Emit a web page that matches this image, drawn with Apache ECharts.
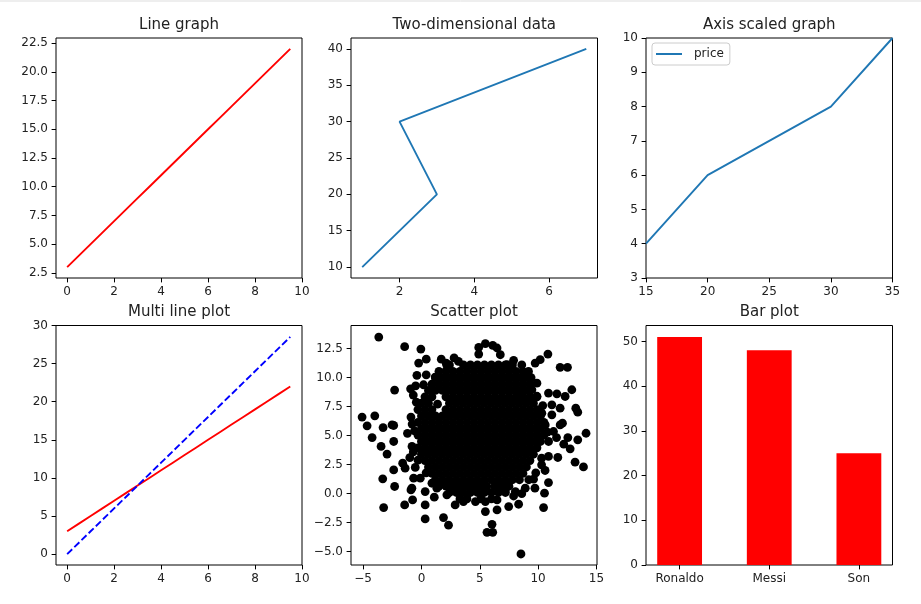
<!DOCTYPE html>
<html><head><meta charset="utf-8">
<script src="https://cdn.jsdelivr.net/npm/echarts@6/dist/echarts.min.js"></script>
<style>html,body{margin:0;padding:0;background:#fff}#c{width:921px;height:604px}</style>
</head><body><div id="c"></div>
<script>
const FONT = 'DejaVu Sans';
const TXT = '#222';

// Panel 1 & 4: line data
const lineX = [0,0.5,1,1.5,2,2.5,3,3.5,4,4.5,5,5.5,6,6.5,7,7.5,8,8.5,9,9.5];
const lineY = [3,4,5,6,7,8,9,10,11,12,13,14,15,16,17,18,19,20,21,22];
const dashedY = [0,1.5,3,4.5,6,7.5,9,10.5,12,13.5,15,16.5,18,19.5,21,22.5,24,25.5,27,28.5];
// Panel 2
const twoDX = [1,3,2,7];
const twoDY = [10,20,30,40];
// Panel 3
const priceX = [15,20,30,35];
const priceY = [4,6,8,10];
// Panel 6
const players = ['Ronaldo','Messi','Son'];
const goals = [51,48,25];

// Tick labels
const ticks1X = [0,2,4,6,8,10];
const ticks1Y = [2.5,5,7.5,10,12.5,15,17.5,20,22.5];
const ticks2X = [2,4,6];
const ticks2Y = [10,15,20,25,30,35,40];
const ticks3X = [15,20,25,30,35];
const ticks3Y = [3,4,5,6,7,8,9,10];
const ticks4X = [0,2,4,6,8,10];
const ticks4Y = [0,5,10,15,20,25,30];
const ticks5X = [-5,0,5,10,15];
const ticks5Y = [-5,-2.5,0,2.5,5,7.5,10,12.5];
const ticks6Y = [0,10,20,30,40,50];

// Panel 5 scatter: dense core read row by row (y, xs) + scattered fringe points [x,y]
const scatterCore = [
  [11.1,[2.4,3.6,4.2,4.8,5.4,6.0,6.6,7.2,7.8]],
  [10.55,[1.5,2.1,2.7,3.3,3.9,4.5,5.1,5.7,6.3,6.9,7.5,8.1,8.7]],
  [10.0,[1.2,1.8,2.4,3.0,3.6,4.2,4.8,5.4,6.0,6.6,7.2,7.8,8.4,9.0]],
  [9.45,[0.9,1.5,2.1,2.7,3.3,3.9,4.5,5.1,5.7,6.3,6.9,7.5,8.1,8.7,9.3]],
  [8.9,[0.6,1.2,1.8,2.4,3.0,3.6,4.2,4.8,5.4,6.0,6.6,7.2,7.8,8.4,9.0]],
  [8.35,[0.3,0.9,2.1,2.7,3.3,3.9,4.5,5.1,5.7,6.3,6.9,7.5,8.1,8.7,9.3,9.9]],
  [7.8,[0.0,0.6,2.4,3.0,3.6,4.2,4.8,5.4,6.0,6.6,7.2,7.8,8.4,9.0,9.6]],
  [7.25,[-0.3,0.3,0.9,2.1,2.7,3.3,3.9,4.5,5.1,5.7,6.3,6.9,7.5,8.1,8.7,9.3,9.9]],
  [6.7,[0.0,0.6,1.2,1.8,2.4,3.0,3.6,4.2,4.8,5.4,6.0,6.6,7.2,7.8,8.4,9.0,9.6,10.2]],
  [6.15,[-0.3,0.3,0.9,1.5,2.1,2.7,3.3,3.9,4.5,5.1,5.7,6.3,6.9,7.5,8.1,8.7,9.3,9.9,10.5]],
  [5.6,[0.0,0.6,1.2,1.8,2.4,3.0,3.6,4.2,4.8,5.4,6.0,6.6,7.2,7.8,8.4,9.0,9.6,10.2]],
  [5.05,[-0.3,0.3,0.9,1.5,2.1,2.7,3.3,3.9,4.5,5.1,5.7,6.3,6.9,7.5,8.1,8.7,9.3,9.9,10.5]],
  [4.5,[0.0,0.6,1.2,1.8,2.4,3.0,3.6,4.2,4.8,5.4,6.0,6.6,7.2,7.8,8.4,9.0,9.6,10.2]],
  [3.95,[-0.3,0.3,0.9,1.5,2.1,2.7,3.3,3.9,4.5,5.1,5.7,6.3,6.9,7.5,8.1,8.7,9.3,9.9]],
  [3.4,[0.0,0.6,1.2,1.8,2.4,3.0,3.6,4.2,4.8,5.4,6.0,6.6,7.2,7.8,8.4,9.0,9.6]],
  [2.85,[0.3,0.9,1.5,2.1,2.7,3.3,3.9,4.5,5.1,5.7,6.3,6.9,7.5,8.1,8.7,9.3]],
  [2.3,[0.6,1.2,1.8,2.4,3.0,3.6,4.2,4.8,5.4,6.0,6.6,7.2,7.8,8.4,9.0]],
  [1.75,[0.9,1.5,2.1,2.7,3.3,3.9,4.5,5.1,5.7,6.3,6.9,7.5,8.1,8.7]],
  [1.2,[1.2,1.8,2.4,3.0,3.6,4.2,4.8,5.4,6.0,6.6,7.2,7.8,8.4]],
  [0.65,[1.5,2.1,2.7,3.3,3.9,4.5,5.1,5.6,6.3,6.9,7.5]],
  [0.1,[2.4,3.0,3.6,4.2,4.8,5.4,6.0,6.6,7.2]],
  [-0.45,[3.3,3.9,5.1,6.0]]
];
const scatterFringe = [
  [-3.66,13.5],[-1.44,12.67],[-0.05,12.47],[0.41,11.6],[-0.24,11.26],[-0.39,10.2],[0.41,10.25],
  [1.18,10.05],[2.18,11.06],[3.17,11.4],[2.12,11.26],[-2.3,8.93],[-0.93,9.04],[0.18,9.39],
  [-0.44,7.89],[1.38,7.72],[-5.09,6.6],[-4.0,6.71],[-4.66,5.85],[-3.29,5.7],[-2.52,5.93],
  [-2.38,5.88],[-4.23,4.84],[-2.38,4.5],[-0.59,5.42],[-0.81,4.07],[-3.46,4.07],[-2.95,3.41],
  [-2.38,2.05],[-0.53,2.26],[-1.61,2.63],[-3.32,1.28],[-2.3,0.62],[-0.82,0.47],[-0.67,1.34],
  [-0.1,1.34],[-3.24,-1.2],[-1.44,-0.97],[-0.76,-0.54],[0.32,-2.18],[0.32,-0.97],[1.89,-2.06],
  [2.32,-2.72],[2.89,-0.97],[3.6,-0.68],[0.32,0.18],[1.32,0.47],[2.18,-0.1],[-0.9,0.32],
  [4.63,-0.68],[5.48,-1.54],[6.48,-1.4],[6.05,-2.64],[5.62,-3.33],[6.11,-3.33],[7.48,-1.11],
  [8.33,-0.91],[8.53,-5.2],[10.47,-1.2],[10.55,0.04],[10.89,0.96],[9.61,1.25],[8.9,0.47],
  [8.05,0.18],[7.19,0.33],[6.48,-0.54],[5.48,-0.68],[9.73,0.47],[11.69,3.12],[13.17,2.72],
  [13.89,2.31],[12.75,3.87],[10.89,3.21],[10.3,2.49],[10.3,3.06],[12.2,4.27],[11.58,4.84],
  [4.91,12.61],[5.48,12.93],[6.11,12.79],[6.48,12.56],[6.76,11.98],[4.91,12.04],[7.33,11.12],
  [9.18,10.54],[9.75,11.26],[10.18,11.55],[10.84,12.04],[11.89,10.89],[12.52,10.89],[9.9,9.53],
  [9.47,8.96],[8.62,8.53],[10.89,8.67],[11.61,8.61],[12.89,8.96],[12.32,8.38],[11.18,7.66],
  [11.89,7.37],[13.23,7.37],[13.4,7.03],[10.32,6.94],[11.18,6.8],[11.89,5.93],[12.09,6.08],
  [11.32,5.36],[13.4,4.64],[14.11,5.21],[12.55,4.84],[10.61,5.93],[-1.0,3.1],[-1.4,2.2],
  [-0.9,6.6],[-0.7,8.5],[-1.2,5.2],[1.7,11.6],[2.8,11.7],[7.9,11.5],[8.6,11.1],[9.4,10.0],
  [9.9,8.4],[10.4,7.6],[10.9,4.5],[10.8,5.3],[10.6,2.0],[9.8,1.8],[9.2,1.2],[0.4,1.8],[-0.3,2.9],
  [-0.7,3.6],[-0.8,6.0],[-0.5,9.3],[0.9,0.9],[1.1,-0.3],[7.9,-0.2],[8.6,0.0]
];

const pts5 = [];
scatterCore.forEach(r => r[1].forEach(x => pts5.push([x, r[0]])));
scatterFringe.forEach(p => pts5.push(p));

const zip = (a, b) => a.map((v, i) => [v, b[i]]);
const minus = s => String(s).replace('-', '\u2212');

const G = [
  {left:56, top:38, width:246, height:240},
  {left:351, top:38, width:246.5, height:240},
  {left:646, top:38, width:246.5, height:240},
  {left:56, top:325.5, width:246, height:239.5},
  {left:351, top:325.5, width:246, height:239.5},
  {left:646, top:325.5, width:246.5, height:239.5}
];
const titles = ['Line graph','Two-dimensional data','Axis scaled graph','Multi line plot','Scatter plot','Bar plot'];

function axis(type, gi, min, max, ticks, fmt) {
  return {
    type:'value', gridIndex:gi, min:min, max:max, scale:true,
    axisLine:{show:false, onZero:false},
    axisTick:{show:true, length:4.4, customValues:ticks, lineStyle:{color:'#000', width:1}},
    axisLabel:{customValues:ticks, formatter:fmt, fontFamily:FONT, fontSize:12, color:TXT, margin:8},
    splitLine:{show:false}
  };
}
const f1 = v => v.toFixed(1);
const f0 = v => minus(String(v));

const barW = G[5].width * 0.5 / 2.75;
const LW = 1.9;

const option = {
  animation:false,
  backgroundColor:'#fff',
  grid: G.map(g => Object.assign({show:true, borderColor:'#000', borderWidth:1, backgroundColor:'transparent', containLabel:false}, g)),
  xAxis: [
    axis('x',0,-0.475,10,ticks1X,f0),
    axis('x',1,0.7,7.3,ticks2X,f0),
    axis('x',2,15,35,ticks3X,f0),
    axis('x',3,-0.475,10,ticks4X,f0),
    axis('x',4,-6.04,15.05,ticks5X,f0),
    axis('x',5,-0.375,2.375,[0,1,2], v => players[Math.round(v)])
  ],
  yAxis: [
    axis('y',0,2.05,22.95,ticks1Y,f1),
    axis('y',1,8.5,41.5,ticks2Y,f0),
    axis('y',2,3,10,ticks3Y,f0),
    axis('y',3,-1.425,30,ticks4Y,f0),
    axis('y',4,-6.15,14.5,ticks5Y,v => minus(v.toFixed(1))),
    axis('y',5,0,53.55,ticks6Y,f0)
  ],
  legend: {
    data:['price'], left:652, top:43, orient:'vertical',
    backgroundColor:'rgba(255,255,255,0.8)', borderColor:'#cccccc', borderWidth:1, borderRadius:3,
    padding:[5,6,5,4], itemWidth:26, itemHeight:2, icon:'rect',
    textStyle:{fontFamily:FONT, fontSize:12, color:TXT, padding:[0,0,0,7]}
  },
  series: [
    {type:'line', xAxisIndex:0, yAxisIndex:0, data:zip(lineX,lineY), symbol:'none', color:'#ff0000', lineStyle:{width:LW, color:'#ff0000'}},
    {type:'line', xAxisIndex:1, yAxisIndex:1, data:zip(twoDX,twoDY), symbol:'none', color:'#1f77b4', lineStyle:{width:LW, color:'#1f77b4'}},
    {type:'line', name:'price', xAxisIndex:2, yAxisIndex:2, data:zip(priceX,priceY), symbol:'none', color:'#1f77b4', lineStyle:{width:LW, color:'#1f77b4'}},
    {type:'line', xAxisIndex:3, yAxisIndex:3, data:zip(lineX,lineY), symbol:'none', color:'#ff0000', lineStyle:{width:LW, color:'#ff0000'}},
    {type:'line', xAxisIndex:3, yAxisIndex:3, data:zip(lineX,dashedY), symbol:'none', color:'#0000ff', lineStyle:{width:LW, color:'#0000ff', type:[7,3]}},
    {type:'scatter', xAxisIndex:4, yAxisIndex:4, data:pts5, symbol:'circle', symbolSize:8.8, itemStyle:{color:'#000', opacity:1}, large:false},
    {type:'bar', xAxisIndex:5, yAxisIndex:5, data:zip([0,1,2],goals), barWidth:barW, itemStyle:{color:'#ff0000'}}
  ],
  graphic: [
    {type:'line', shape:{x1:0,y1:1,x2:921,y2:1}, style:{stroke:'#dddddd', lineWidth:1}, silent:true}
  ].concat(G.map((g,i) => ({
    type:'text', x:g.left + g.width/2, y:(i < 3 ? 25.4 : 312.4), silent:true,
    style:{text:titles[i], fontFamily:FONT, fontSize:15, fill:TXT, align:'center', verticalAlign:'middle'}
  })))
};

const chart = echarts.init(document.getElementById('c'), null, {renderer:'canvas'});
chart.setOption(option);
</script>
</body></html>
